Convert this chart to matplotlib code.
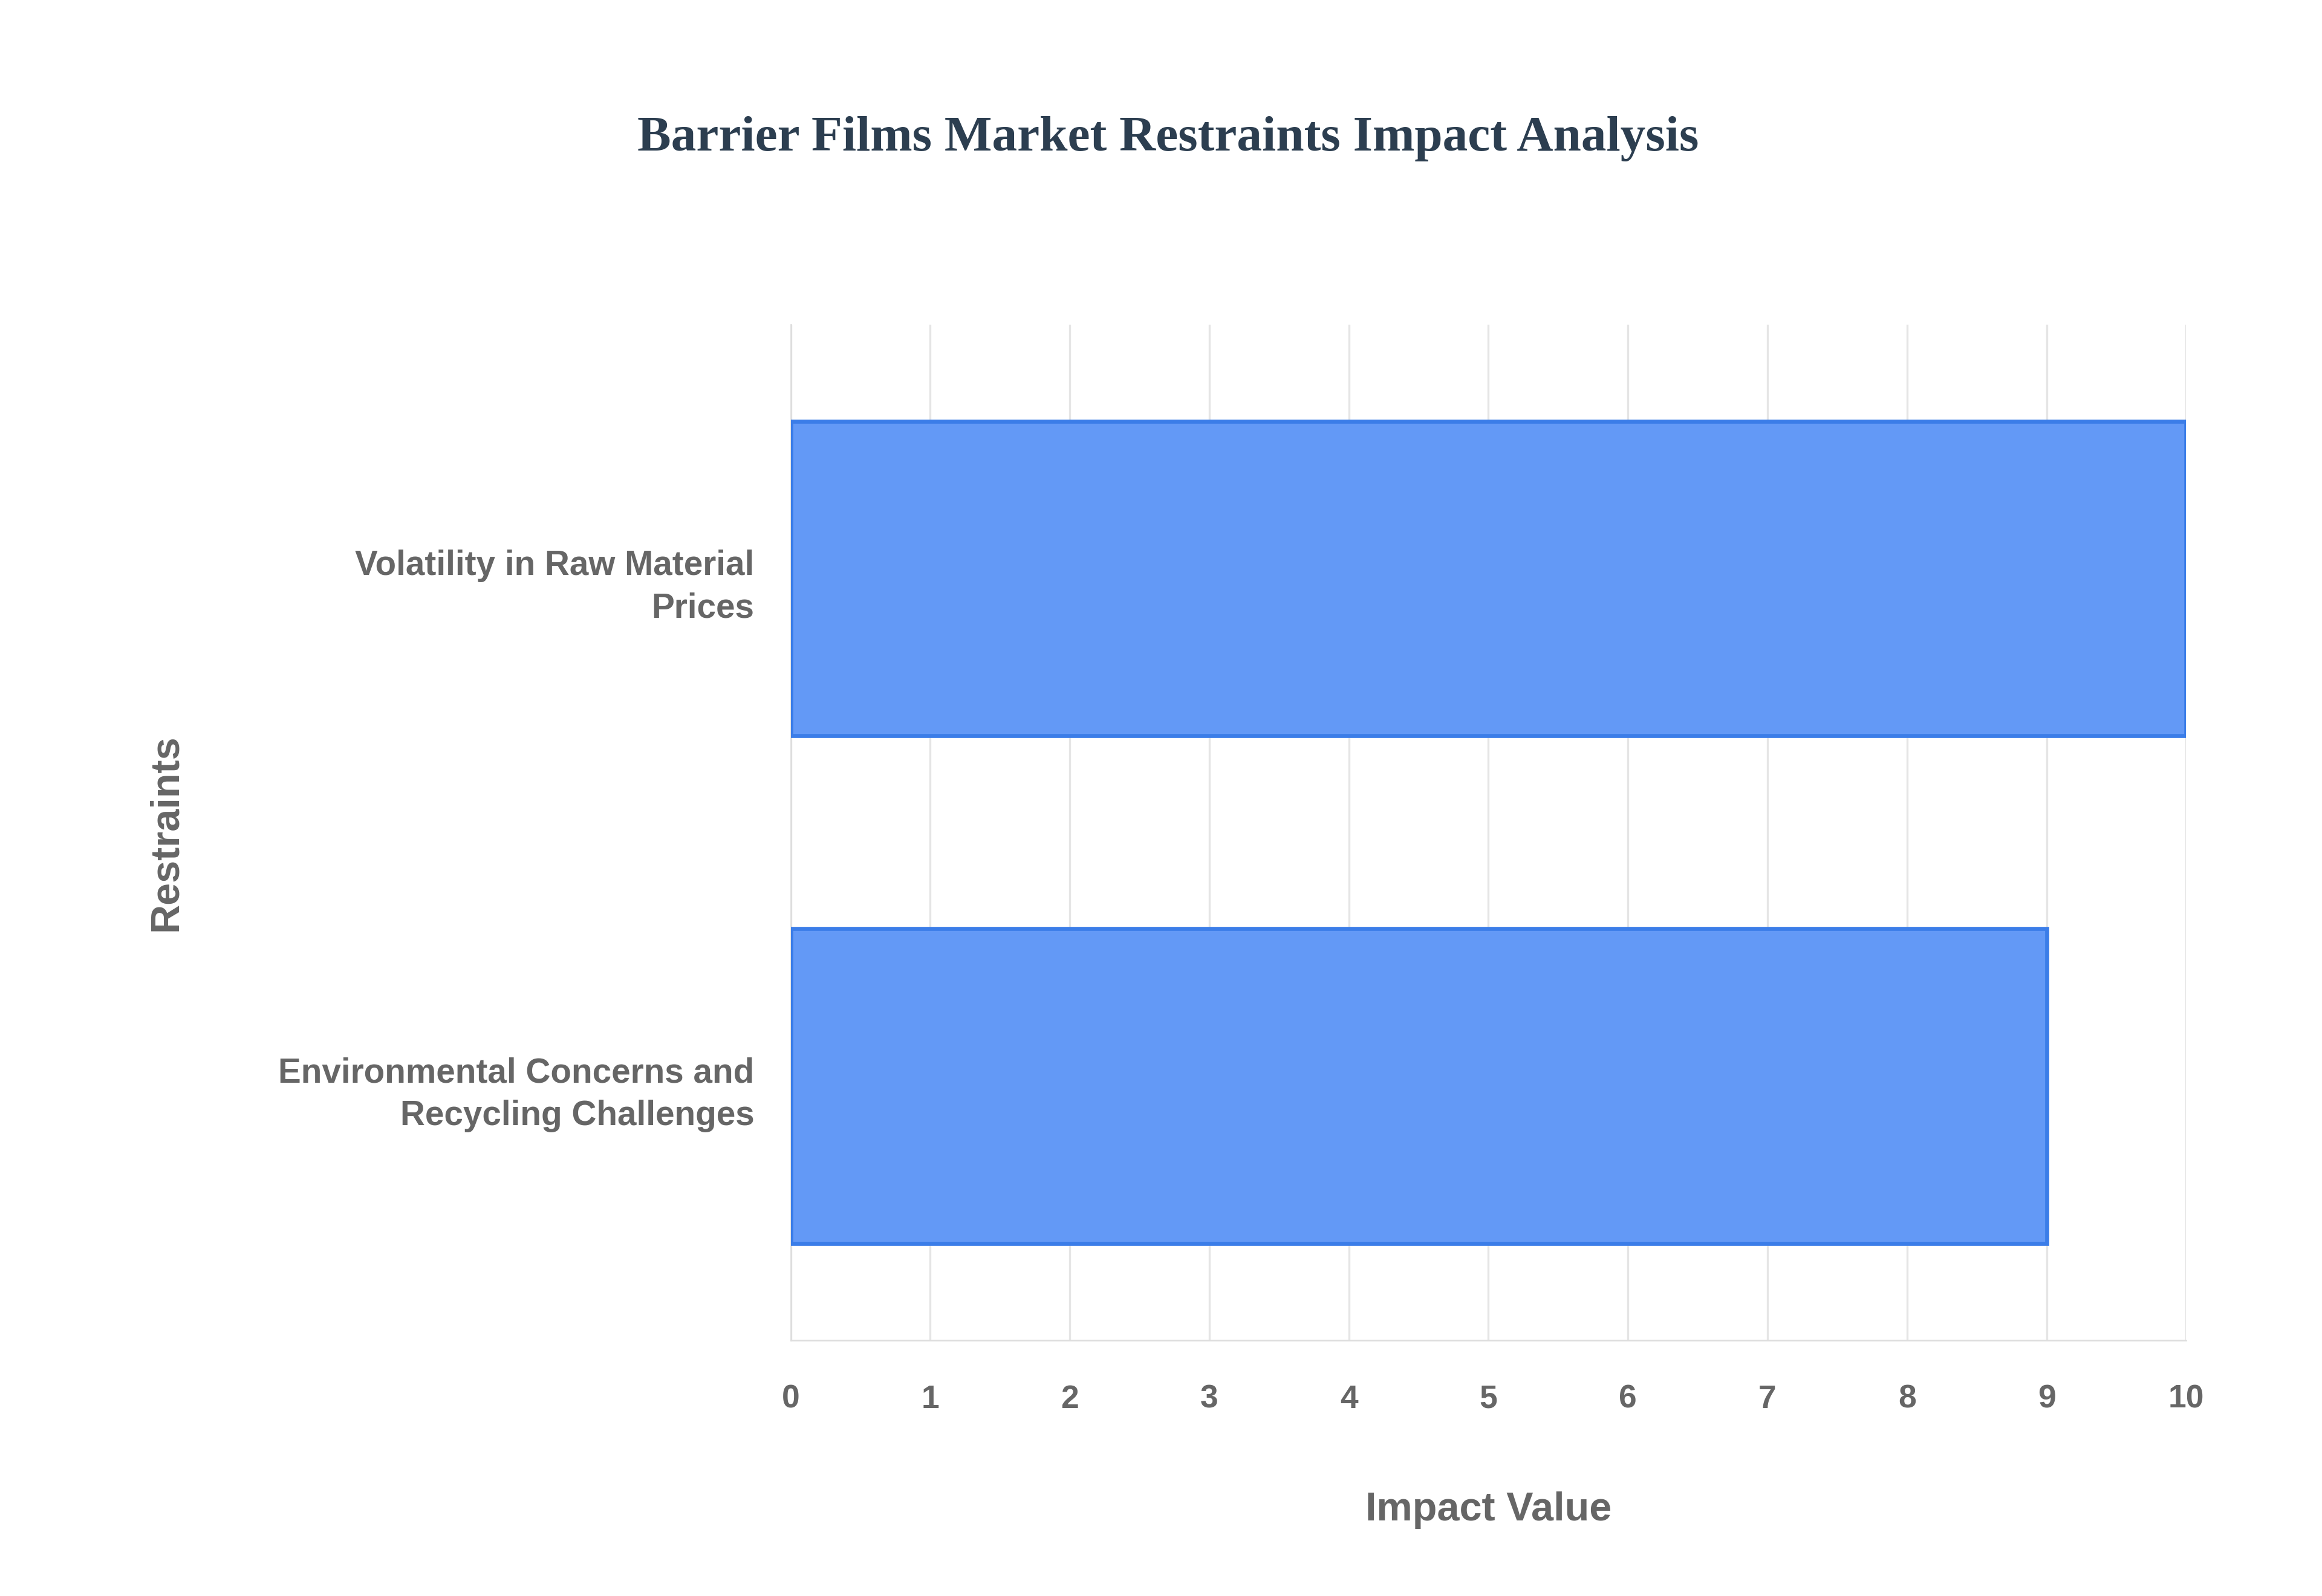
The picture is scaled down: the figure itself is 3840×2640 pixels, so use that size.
import matplotlib
matplotlib.use("Agg")
import matplotlib.pyplot as plt

categories = ["Environmental Concerns and\nRecycling Challenges", "Volatility in Raw Material\nPrices"]
values = [9, 10]
xticks = list(range(0, 11))

fig = plt.figure(figsize=(16, 11), dpi=240)
ax = fig.add_axes([0.3405, 0.1604, 0.601, 0.6362])
ax.barh(range(len(categories)), values, height=0.62, color="#6399f6", edgecolor="#3b7de8", linewidth=2, zorder=3)
ax.set_xlim(0, 10)
ax.set_ylim(-0.5, 1.5)
ax.set_xticks(xticks)
ax.set_yticks(range(len(categories)))
ax.set_yticklabels(categories, fontsize=17, fontweight="bold", color="#666666", family="Liberation Sans", linespacing=1.4)
for lab in ax.get_xticklabels():
    lab.set_fontsize(16); lab.set_fontweight("bold"); lab.set_color("#666666"); lab.set_family("Liberation Sans")
ax.tick_params(length=0, pad=18)
ax.tick_params(axis="x", pad=22)
ax.grid(axis="x", color="#e5e5e5", linewidth=1, zorder=0)
for s in ["top", "right"]:
    ax.spines[s].set_visible(False)
for s in ["left", "bottom"]:
    ax.spines[s].set_color("#dddddd")
ax.set_xlabel("Impact Value", fontsize=20, fontweight="bold", color="#666666", family="Liberation Sans", labelpad=38)
ax.set_ylabel("Restraints", fontsize=20, fontweight="bold", color="#666666", family="Liberation Sans")
ax.yaxis.set_label_coords(-0.434, 0.5)
fig.text(0.503, 0.913, "Barrier Films Market Restraints Impact Analysis", ha="center", va="center",
         fontsize=25, fontweight="bold", color="#2c3e50", family="Liberation Serif")
fig.savefig("out.png", dpi=240)
